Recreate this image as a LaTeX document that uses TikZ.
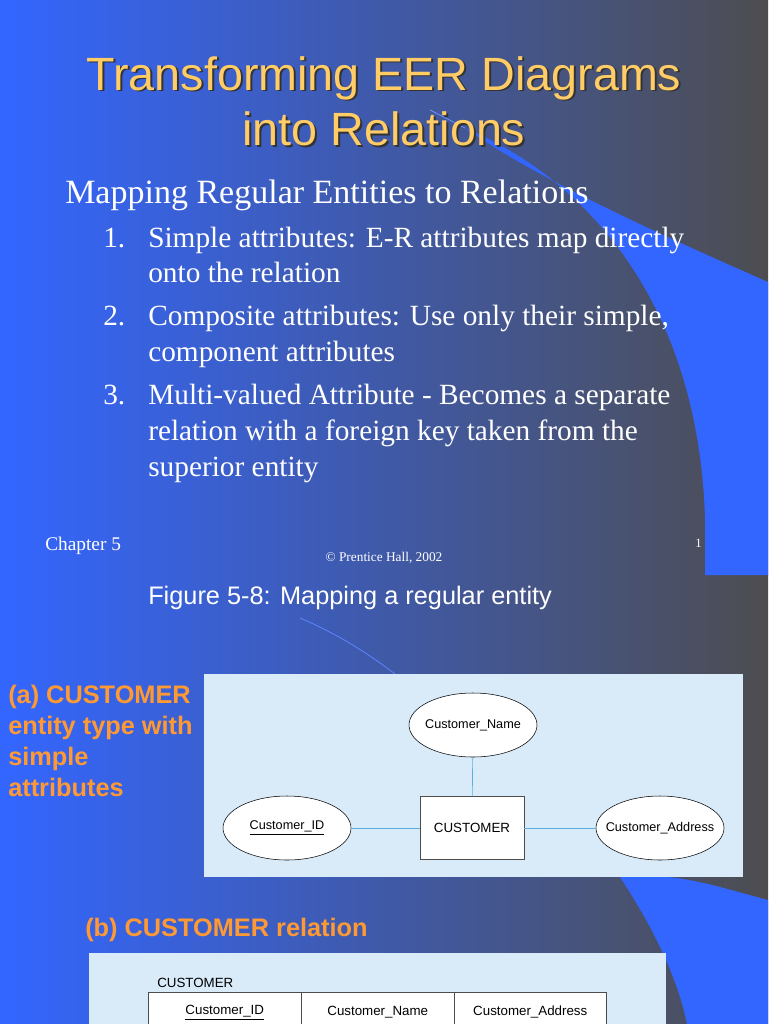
\documentclass[tikz,border=0pt]{standalone}
\usepackage{fontspec}
\setmainfont{Liberation Serif}
\newfontfamily\arial{Liberation Sans}
\usetikzlibrary{shapes.geometric,shadows}
\definecolor{bgblue}{HTML}{3366FF}
\definecolor{bggray}{HTML}{4D4D50}
\definecolor{titleor}{HTML}{FFCC66}
\definecolor{labor}{HTML}{FF9933}
\definecolor{panel}{HTML}{D9EBF9}
\definecolor{connl}{HTML}{5AAEE0}
\begin{document}
\begin{tikzpicture}[x=0.75pt,y=-0.75pt,
  ttl/.style={text=titleor,font=\arial\fontsize{35}{40}\selectfont,anchor=base},
  ttlsh/.style={text=black!80,font=\arial\fontsize{35}{40}\selectfont,anchor=base},
  body/.style={text=white,font=\fontsize{22}{25}\selectfont,anchor=base west,inner sep=0},
  lab/.style={text=labor,font=\arial\bfseries\fontsize{19}{22}\selectfont,anchor=base west,inner sep=0},
  attr/.style={ellipse,draw=black,fill=white,font=\arial\fontsize{9.5}{11}\selectfont,minimum height=48,minimum width=96,inner xsep=-7pt,inner ysep=0},
  ent/.style={rectangle,draw=black!70,fill=white,font=\arial\fontsize{10}{12}\selectfont,minimum width=78,minimum height=47},
  conn/.style={draw=connl,line width=0.5pt},
  cell/.style={rectangle,draw=black!70,fill=white,font=\arial\fontsize{10}{12}\selectfont,minimum width=114.75,minimum height=30,anchor=north west,inner sep=0}]
\useasboundingbox (0,0) rectangle (768,1024);
\shade[left color=bgblue,right color=bggray] (0,575) rectangle (768,1024);
\shade[left color=bgblue,right color=bggray] (0,0) rectangle (768,575);
% swoosh top slide
\fill[bgblue] (465,128) .. controls (610,190) and (700,330) .. (705,520) -- (705,575) -- (768,575) -- (768,282) .. controls (650,230) and (540,180) .. (465,128) -- cycle;
\draw[bgblue!70!white,line width=0.6pt] (430,110) -- (465,128);
% swoosh bottom slide
\fill[bgblue] (620,877) .. controls (655,930) and (678,980) .. (687,1024) -- (768,1024) -- (768,900) .. controls (730,890) and (700,880) .. (667,877) -- cycle;
\draw[bgblue!80!white,line width=0.6pt] (300,618) .. controls (340,635) and (370,655) .. (395,674);
% title
\foreach \t/\yy in {Transforming EER Diagrams/90, into Relations/145}{
  \node[ttlsh] at (386,\yy+2) {\t};
  \node[ttl] at (384,\yy) {\t};
}
\node[body,font=\fontsize{25.5}{29}\selectfont] (h) at (65,203) {Mapping Regular Entities to Relations};
\node[body] (n1) at (103,247) {1.};
\node[body] (l1) at (148,247) {Simple attributes: E-R attributes map directly};
\node[body] (l1b) at (148,282) {onto the relation};
\node[body] (n2) at (103,325) {2.};
\node[body] (l2) at (148,325) {Composite attributes: Use only their simple,};
\node[body] (l2b) at (148,361) {component attributes};
\node[body] (n3) at (103,404) {3.};
\node[body] (l3) at (148,404) {Multi-valued Attribute - Becomes a separate};
\node[body] (l3b) at (148,440) {relation with a foreign key taken from the};
\node[body] (l3c) at (148,476) {superior entity};
\node[body,font=\fontsize{14.5}{16}\selectfont] (ch) at (45,550) {Chapter 5};
\node[text=white,font=\fontsize{10}{11}\selectfont,anchor=base,inner sep=0] (cp) at (384,561) {© Prentice Hall, 2002};
\node[body,font=\fontsize{9.5}{11}\selectfont] (pg) at (695,547) {1};
% second slide
\node[body,font=\arial\fontsize{19}{22}\selectfont] (fig) at (148,604) {Figure 5-8: Mapping a regular entity};
\node[lab] (a1) at (8,703) {(a) CUSTOMER};
\node[lab] (a2) at (8,734) {entity type with};
\node[lab] (a3) at (8,765) {simple};
\node[lab] (a4) at (8,796) {attributes};
\fill[panel] (204,674) rectangle (743,877);
\node[attr] (cn) at (473,725) {Customer\_Name};
\node[ent] (cu) at (472,828) {CUSTOMER};
\node[attr] (ci) at (287,828) {\underline{Customer\_ID}};
\node[attr] (ca) at (660,828) {Customer\_Address};
\draw[conn] (cn) -- (cu);
\draw[conn] (ci) -- (cu);
\draw[conn] (cu) -- (ca);
\node[lab] (b1) at (85,936) {(b) CUSTOMER relation};
\fill[panel] (89,953) rectangle (666,1030);
\node[text=black,font=\arial\fontsize{10}{12}\selectfont,anchor=base west,inner sep=0] (tn) at (157,987) {CUSTOMER};
\node[cell] (t1) at (148,992) {\underline{Customer\_ID}};
\node[cell] (t2) at (301,992) {Customer\_Name};
\node[cell,minimum width=114] (t3) at (454,992) {Customer\_Address};
\end{tikzpicture}
\end{document}
